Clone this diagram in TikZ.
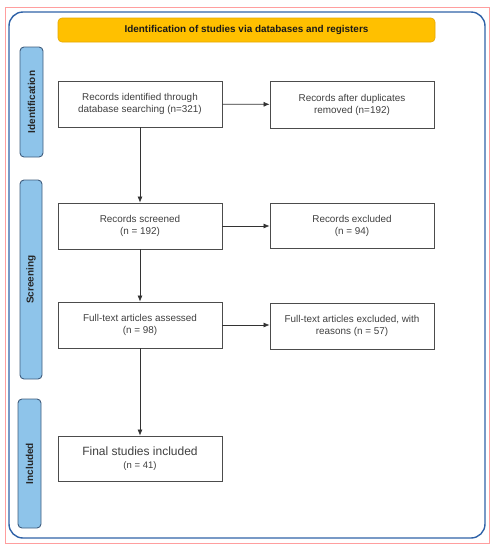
\documentclass[tikz,border=0pt]{standalone}
\usepackage{fontspec}
\setmainfont{Liberation Sans}
\usetikzlibrary{arrows.meta}
\definecolor{txt}{HTML}{404040}
\definecolor{hdr}{HTML}{FFC000}
\definecolor{hdrb}{HTML}{E6A800}
\definecolor{side}{HTML}{8EC4EA}
\definecolor{sideb}{HTML}{3F5D7E}
\definecolor{frame}{HTML}{2F62A8}
\definecolor{pinkb}{HTML}{FF9E9E}
\tikzset{
  flowbox/.style={draw=black!70, line width=0.8pt, fill=white, text=txt, align=center, font=\fontsize{9.9}{12}\selectfont},
  sidebar/.style={draw=sideb, line width=0.9pt, fill=side, rounded corners=4pt},
  sidelabel/.style={rotate=90, font=\bfseries\fontsize{10}{12}\selectfont, text=black!85},
  arr/.style={-{Latex[length=6pt,width=5pt]}, line width=0.7pt, draw=black!80}
}
\begin{document}
\begin{tikzpicture}[x=1pt,y=-1pt]
\useasboundingbox (0,0) rectangle (497,550);
\draw[pinkb, line width=0.8pt] (5,7) rectangle (489,543);
\draw[frame, line width=1.4pt, rounded corners=14pt] (9,12) rectangle (485,538);
% header
\node[draw=hdrb, fill=hdr, rounded corners=4pt, line width=0.6pt, minimum width=377pt, minimum height=24pt, inner sep=0pt, font=\bfseries\fontsize{9.9}{12}\selectfont, text=black!90] (hdr) at (246.5,30) {Identification of studies via databases and registers};
% side bars
\draw[sidebar] (20,47) rectangle (43,157);
\node[sidelabel] (lid) at (31.5,102) {Identification};
\draw[sidebar] (20,180) rectangle (42,379);
\node[sidelabel] (lsc) at (31,279.5) {Screening};
\draw[sidebar] (18,399) rectangle (41,528);
\node[sidelabel] (lin) at (29.5,463.5) {Included};
% boxes
\node[flowbox, minimum width=164pt, minimum height=46pt] (b1) at (140,104) {Records identified through\\database searching (n=321)};
\node[flowbox, minimum width=164pt, minimum height=47pt] (b2) at (352,104.5) {Records after duplicates\\removed (n=192)};
\node[flowbox, minimum width=164pt, minimum height=46pt] (b3) at (140,226) {Records screened\\(n = 192)};
\node[flowbox, minimum width=164pt, minimum height=45pt] (b4) at (352,225.5) {Records excluded\\(n = 94)};
\node[flowbox, minimum width=164pt, minimum height=46pt] (b5) at (140,325) {Full-text articles assessed\\(n = 98)};
\node[flowbox, minimum width=164pt, minimum height=46pt] (b6) at (352,326) {Full-text articles excluded, with\\reasons (n = 57)};
\node[flowbox, minimum width=164pt, minimum height=45pt, font=\fontsize{12}{13}\selectfont] (b7) at (140,458.5) {Final studies included\\{\fontsize{9.5}{11}\selectfont (n = 41)}};
% arrows
\draw[arr] (b1) -- (b3);
\draw[arr] (b3) -- (b5);
\draw[arr] (b5) -- (b7);
\draw[arr] (b1) -- (b2);
\draw[arr] (b3.east) -- (b4.west |- b3.east);
\draw[arr] (b5.east) -- (b6.west |- b5.east);
\end{tikzpicture}
\end{document}
